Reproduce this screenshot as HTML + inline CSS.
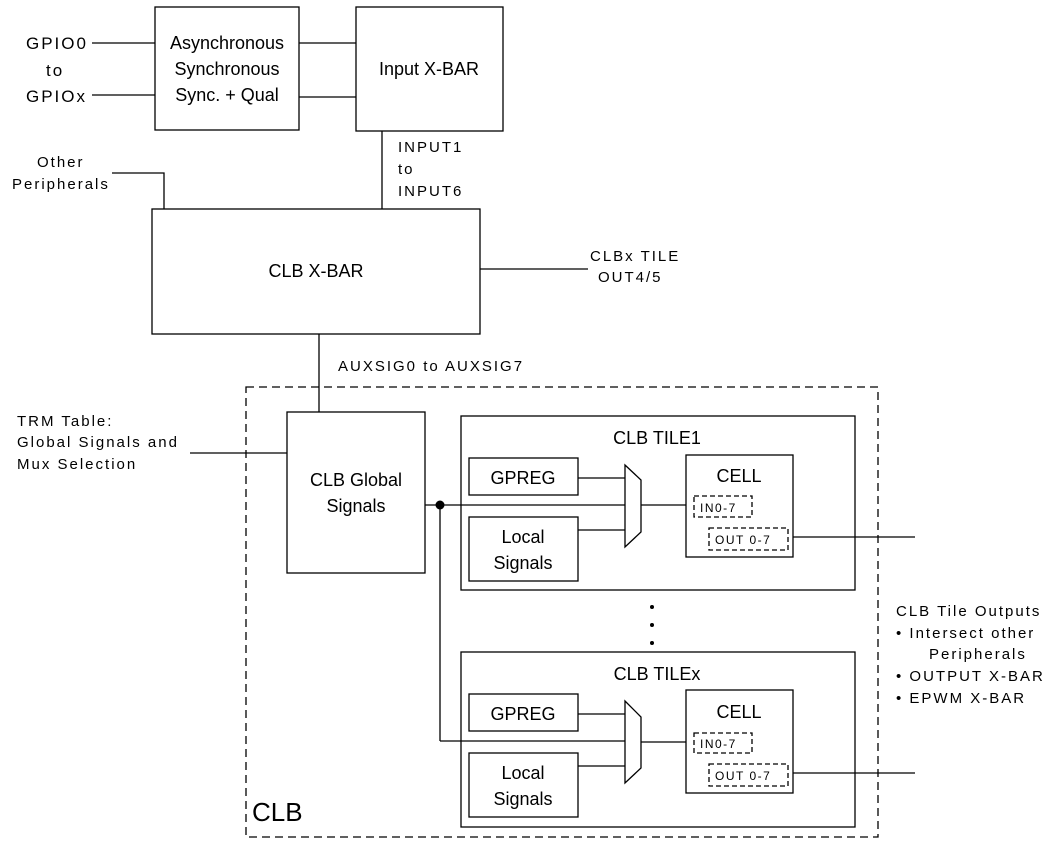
<!DOCTYPE html>
<html><head><meta charset="utf-8"><style>
html,body{margin:0;padding:0;background:#fff;}
svg text{font-family:"Liberation Sans",sans-serif;fill:#000;}
.b{font-size:18px;}
.s{font-size:15px;letter-spacing:2px;}
</style></head><body>
<svg width="1061" height="857" viewBox="0 0 1061 857" xmlns="http://www.w3.org/2000/svg">
<g fill="none" stroke="#000" stroke-width="1.3">
<rect x="155" y="7" width="144" height="123"/>
<rect x="356" y="7" width="147" height="124"/>
<line x1="92" y1="43" x2="155" y2="43"/>
<line x1="92" y1="95" x2="155" y2="95"/>
<line x1="299" y1="43" x2="356" y2="43"/>
<line x1="299" y1="97" x2="356" y2="97"/>
<line x1="382" y1="131" x2="382" y2="209"/>
<polyline points="112,173 164,173 164,209"/>
<rect x="152" y="209" width="328" height="125"/>
<line x1="480" y1="269" x2="588" y2="269"/>
<line x1="319" y1="334" x2="319" y2="412"/>
<rect x="246" y="387" width="632" height="450" stroke-dasharray="8,5"/>
<rect x="287" y="412" width="138" height="161"/>
<line x1="190" y1="453" x2="287" y2="453"/>
<line x1="425" y1="505" x2="625" y2="505"/>
<line x1="440" y1="505" x2="440" y2="741"/>
<line x1="440" y1="741" x2="625" y2="741"/>
<rect x="461" y="416" width="394" height="174"/>
<rect x="469" y="458" width="109" height="37"/>
<rect x="469" y="517" width="109" height="64"/>
<line x1="578" y1="478" x2="625" y2="478"/>
<line x1="578" y1="530" x2="625" y2="530"/>
<polygon points="625,465 641,480 641,532 625,547"/>
<line x1="641" y1="505" x2="686" y2="505"/>
<rect x="686" y="455" width="107" height="102"/>
<rect x="694" y="496" width="58" height="21" stroke-dasharray="5,3"/>
<rect x="709" y="528" width="79" height="22" stroke-dasharray="5,3"/>
<line x1="793" y1="537" x2="915" y2="537"/>
<rect x="461" y="652" width="394" height="175"/>
<rect x="469" y="694" width="109" height="37"/>
<rect x="469" y="753" width="109" height="64"/>
<line x1="578" y1="714" x2="625" y2="714"/>
<line x1="578" y1="766" x2="625" y2="766"/>
<polygon points="625,701 641,717 641,768 625,783"/>
<line x1="641" y1="742" x2="686" y2="742"/>
<rect x="686" y="690" width="107" height="103"/>
<rect x="694" y="733" width="58" height="20" stroke-dasharray="5,3"/>
<rect x="709" y="764" width="79" height="22" stroke-dasharray="5,3"/>
<line x1="793" y1="773" x2="915" y2="773"/>
</g>
<circle cx="440" cy="505" r="4.5" fill="#000"/>
<circle cx="652" cy="607" r="2" fill="#000"/>
<circle cx="652" cy="625" r="2" fill="#000"/>
<circle cx="652" cy="643" r="2" fill="#000"/>
<g style="font-size:17px;letter-spacing:2px">
<text x="26" y="49">GPIO0</text>
<text x="46" y="76">to</text>
<text x="26" y="102">GPIOx</text>
</g>
<g class="s">
<text x="398" y="152">INPUT1</text>
<text x="398" y="174">to</text>
<text x="398" y="196">INPUT6</text>
<text x="37" y="167">Other</text>
<text x="12" y="189">Peripherals</text>
<text x="590" y="261">CLBx TILE</text>
<text x="598" y="282">OUT4/5</text>
<text x="338" y="371">AUXSIG0 to AUXSIG7</text>
<text x="17" y="426">TRM Table:</text>
<text x="17" y="447">Global Signals and</text>
<text x="17" y="469">Mux Selection</text>
<text x="896" y="616">CLB Tile Outputs</text>
<text x="896" y="638">• Intersect other</text>
<text x="929" y="659">Peripherals</text>
<text x="896" y="681">• OUTPUT X-BAR</text>
<text x="896" y="703">• EPWM X-BAR</text>
</g>
<g style="font-size:12px;letter-spacing:1.5px">
<text x="700" y="512">IN0-7</text>
<text x="715" y="544">OUT 0-7</text>
<text x="700" y="748">IN0-7</text>
<text x="715" y="780">OUT 0-7</text>
</g>
<g class="b" text-anchor="middle">
<text x="227" y="49">Asynchronous</text>
<text x="227" y="75">Synchronous</text>
<text x="227" y="101">Sync. + Qual</text>
<text x="429" y="75">Input X-BAR</text>
<text x="316" y="277">CLB X-BAR</text>
<text x="356" y="486">CLB Global</text>
<text x="356" y="512">Signals</text>
<text x="657" y="444">CLB TILE1</text>
<text x="523" y="484">GPREG</text>
<text x="523" y="543">Local</text>
<text x="523" y="569">Signals</text>
<text x="739" y="482">CELL</text>
<text x="657" y="680">CLB TILEx</text>
<text x="523" y="720">GPREG</text>
<text x="523" y="779">Local</text>
<text x="523" y="805">Signals</text>
<text x="739" y="718">CELL</text>
</g>
<text x="252" y="821" style="font-size:26px">CLB</text>
</svg>
</body></html>
